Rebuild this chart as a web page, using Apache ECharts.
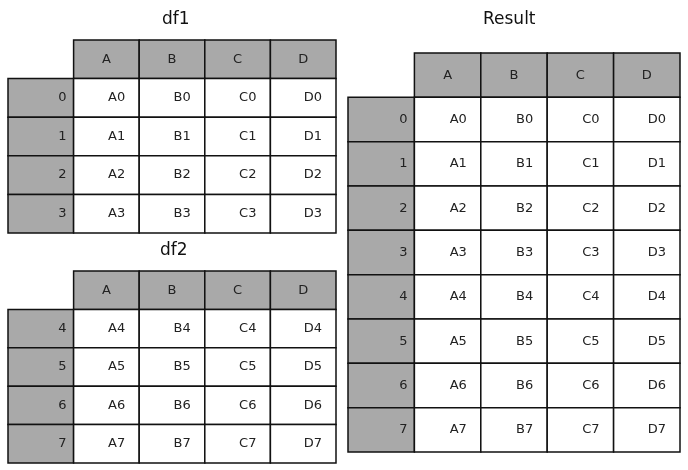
<!DOCTYPE html>
<html>
<head>
<meta charset="utf-8">
<script src="https://cdn.jsdelivr.net/npm/echarts@6/dist/echarts.min.js"></script>
<style>html,body{margin:0;padding:0;background:#fff}#main{width:688px;height:470px}</style>
</head>
<body>
<div id="main"></div>
<script>
var columns = ['A', 'B', 'C', 'D'];
var df1Index = [0, 1, 2, 3];
var df2Index = [4, 5, 6, 7];
var resultIndex = [0, 1, 2, 3, 4, 5, 6, 7];
var titles = ['df1', 'df2', 'Result'];

// cells of one table: [col, row, text, kind]
function tableCells(index) {
    var cells = [];
    columns.forEach(function (c, j) {
        cells.push([j + 1, 0, c, 'head']);
    });
    index.forEach(function (r, i) {
        cells.push([0, i + 1, String(r), 'index']);
        columns.forEach(function (c, j) {
            cells.push([j + 1, i + 1, c + r, 'data']);
        });
    });
    return cells;
}

function makeRender(cells) {
    return function (params, api) {
        var cell = cells[params.dataIndex];
        var kind = cell[3], text = cell[2];
        var p0 = api.coord([cell[0], cell[1]]);
        var sz = api.size([1, 1]);
        var x = p0[0] - sz[0] / 2, y = p0[1] - sz[1] / 2;
        var isData = kind == 'data';
        return {
            type: 'group',
            children: [{
                type: 'rect',
                shape: { x: x, y: y, width: sz[0], height: sz[1] },
                style: { fill: isData ? '#fff' : '#a9a9a9', stroke: '#111', lineWidth: 1.5 }
            }, {
                type: 'text',
                style: {
                    text: text,
                    x: kind == 'head' ? x + sz[0] / 2 : x + sz[0] - (kind == 'index' ? 7 : 14),
                    y: y + sz[1] / 2,
                    align: kind == 'head' ? 'center' : 'right',
                    verticalAlign: 'middle',
                    fill: '#222',
                    font: '13px "DejaVu Sans"'
                }
            }]
        };
    };
}

var grids = [
    { left: 8, top: 40, width: 328, height: 193 },
    { left: 8, top: 271, width: 328, height: 192 },
    { left: 348, top: 53, width: 332, height: 399 }
];
var indexes = [df1Index, df2Index, resultIndex];

var myChart = echarts.init(document.getElementById('main'));
var option = {
    animation: false,
    title: [
        { text: titles[0], left: 157, top: 6 },
        { text: titles[1], left: 155, top: 237 },
        { text: titles[2], left: 478, top: 6 }
    ].map(function (t) {
        t.textStyle = { fontSize: 17, fontWeight: 'normal', color: '#111', fontFamily: 'DejaVu Sans' };
        return t;
    }),
    grid: grids,
    xAxis: grids.map(function (g, i) {
        return { type: 'category', gridIndex: i, data: ['', 'A', 'B', 'C', 'D'], show: false };
    }),
    yAxis: grids.map(function (g, i) {
        return { type: 'category', gridIndex: i, inverse: true, show: false,
                 data: ['h'].concat(indexes[i].map(String)) };
    }),
    series: indexes.map(function (idx, i) {
        var cells = tableCells(idx);
        return {
            type: 'custom', xAxisIndex: i, yAxisIndex: i,
            renderItem: makeRender(cells),
            data: cells.map(function (c) { return [c[0], c[1]]; })
        };
    })
};
myChart.setOption(option);
</script>
</body>
</html>
